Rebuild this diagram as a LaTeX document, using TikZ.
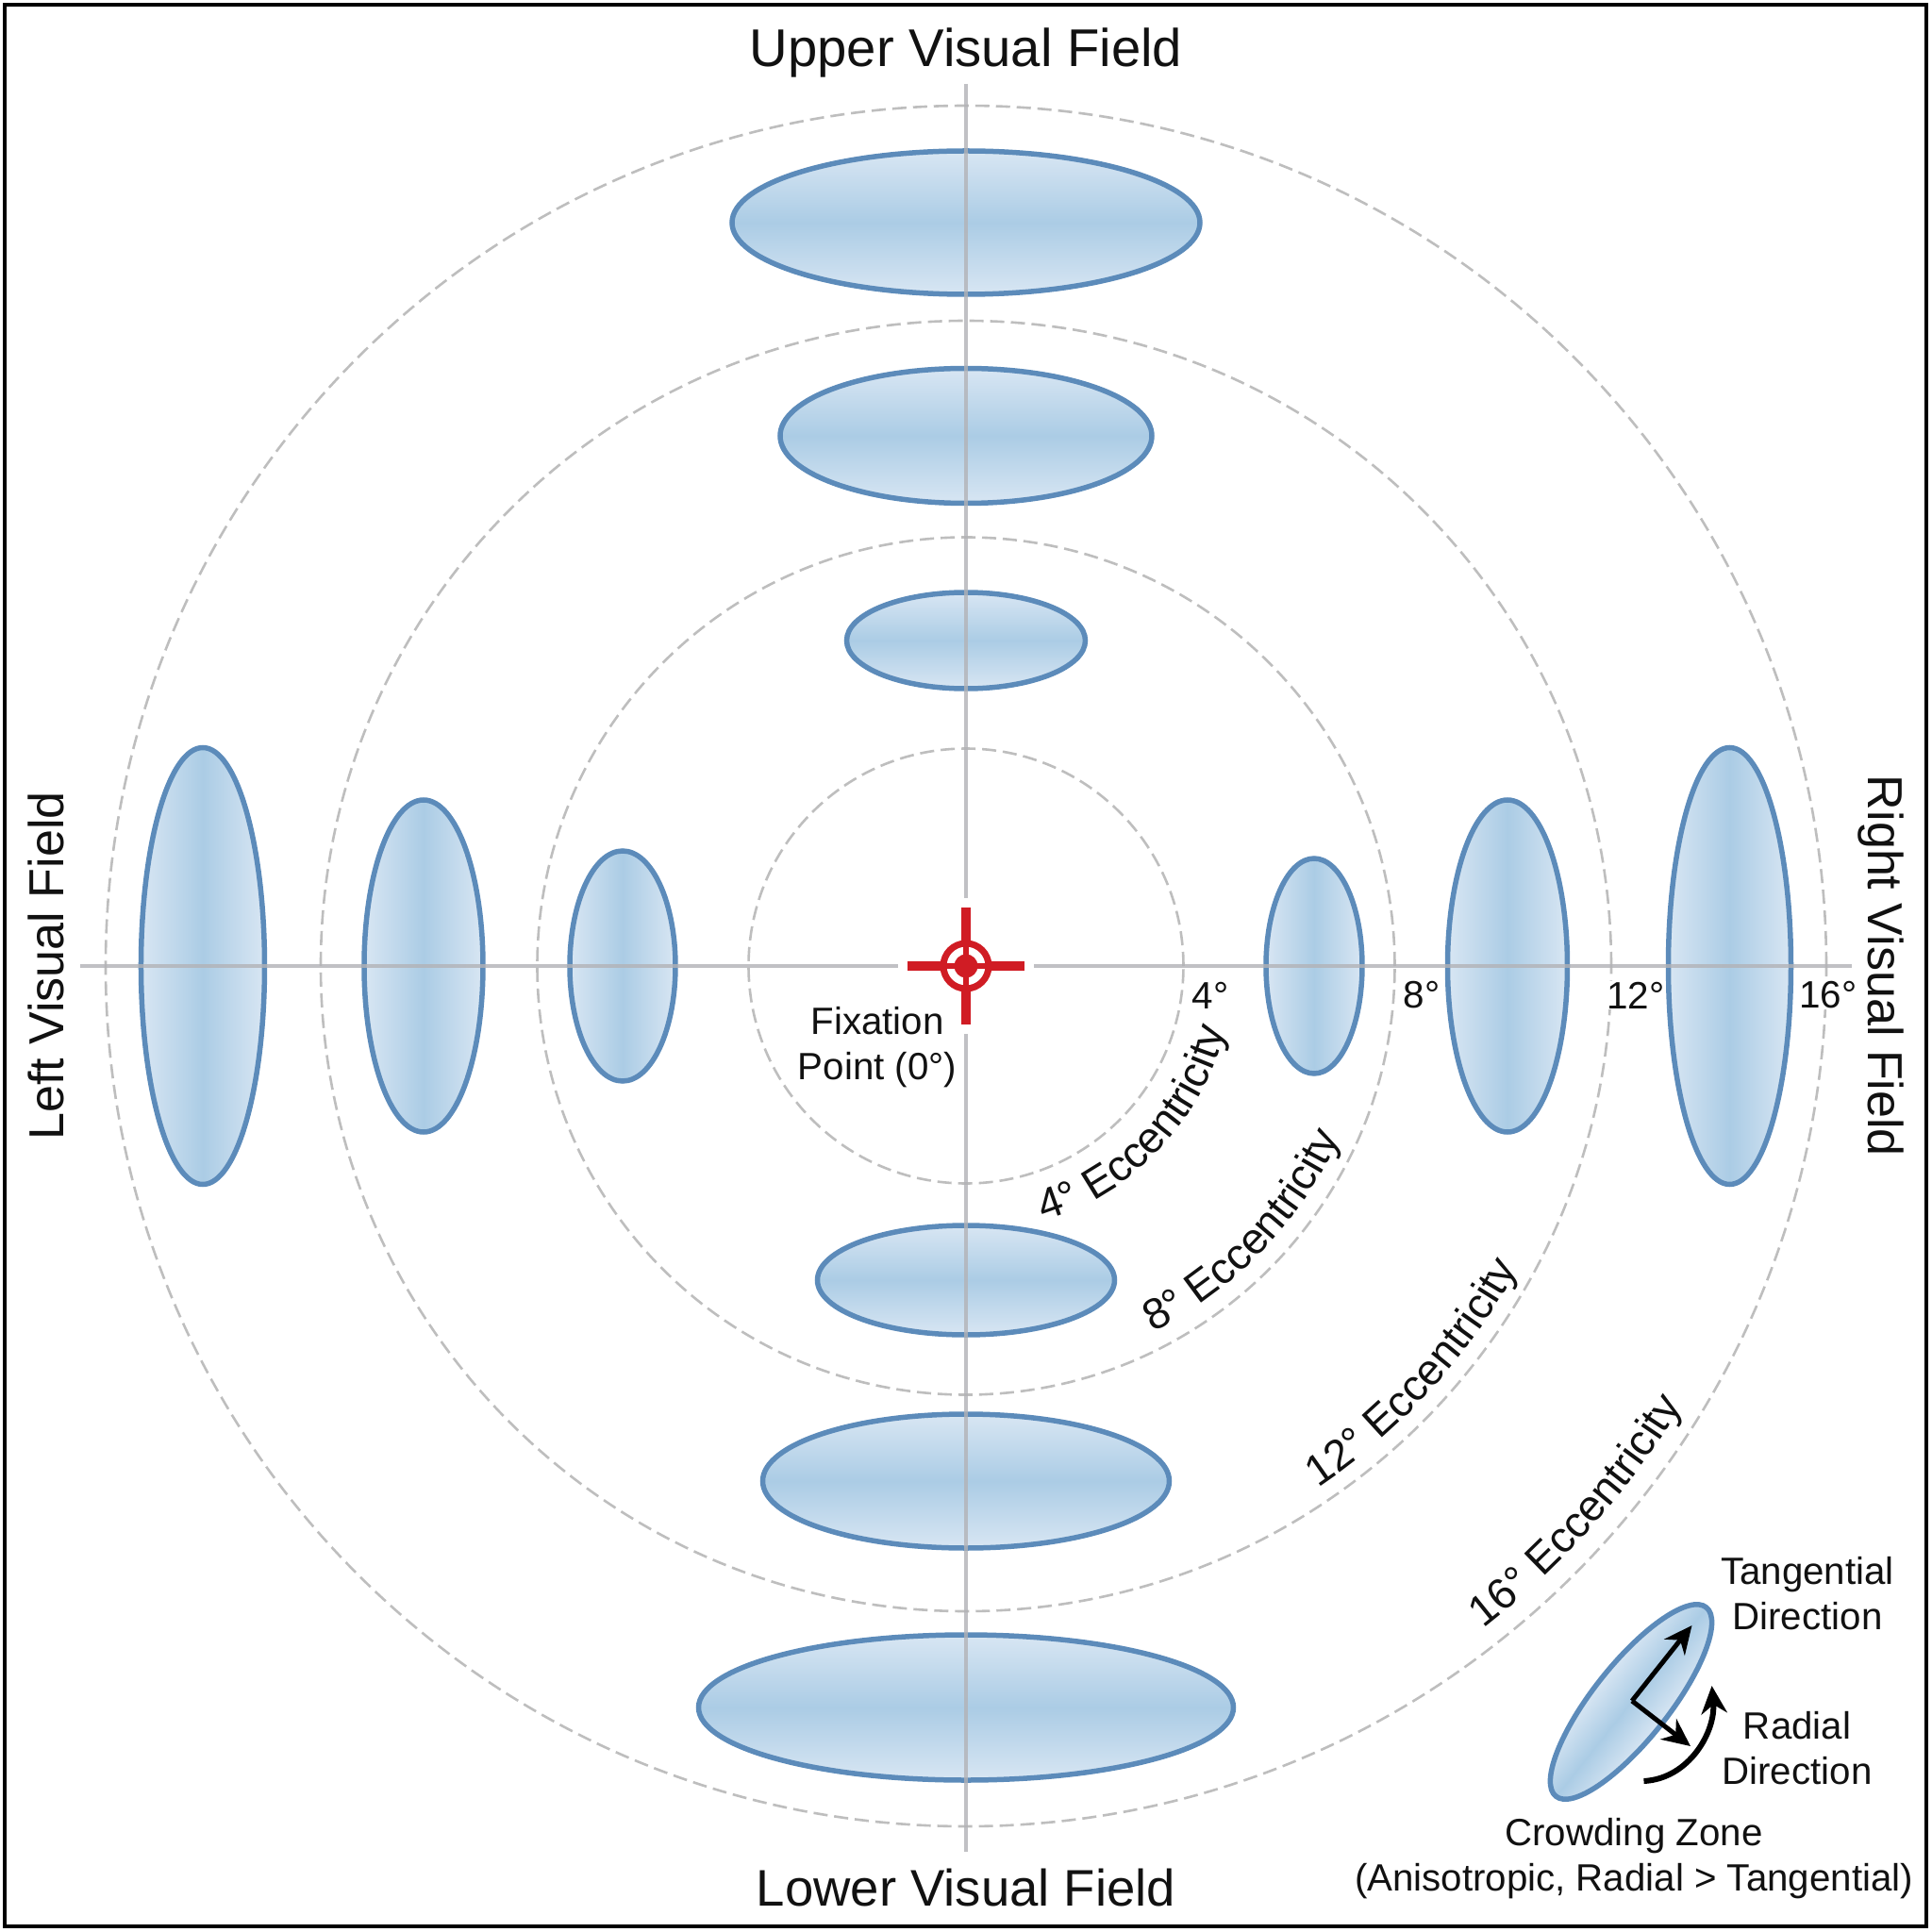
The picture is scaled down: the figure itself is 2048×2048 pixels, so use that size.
\documentclass[tikz,border=0pt]{standalone}
\usepackage{fontspec}
\setmainfont{Liberation Sans}
\usetikzlibrary{shapes.geometric,arrows.meta,decorations.text}
\newlength{\du}
\setlength{\du}{0.01cm}
\definecolor{zoneedge}{HTML}{5C8BBA}
\definecolor{zonelight}{HTML}{D8E6F3}
\definecolor{zonedark}{HTML}{ABCCE5}
\definecolor{ringgray}{HTML}{BEBEBE}
\definecolor{axisgray}{HTML}{B2B2B6}
\definecolor{fixred}{HTML}{D01C24}
\definecolor{inkblack}{HTML}{111111}
\newcommand{\ecclabelfont}{\fontsize{13.1}{15}\selectfont\color{inkblack}}
\tikzset{
  zonebase/.style={ellipse,draw=zoneedge,line width=5.5\du,inner sep=0pt,outer sep=0pt},
  zoneh/.style 2 args={zonebase,minimum width=#1\du,minimum height=#2\du,
    top color=zonelight,bottom color=zonelight,middle color=zonedark},
  zonev/.style 2 args={zonebase,minimum width=#1\du,minimum height=#2\du,
    left color=zonelight,right color=zonelight,middle color=zonedark},
  ringline/.style={draw=ringgray,line width=2.6\du,dash pattern=on 15\du off 7\du},
  axisline/.style={draw=axisgray,line width=4\du,opacity=0.8},
  fixarm/.style={draw=fixred,line width=10\du},
  upperfont/.style={font=\fontsize{16}{18}\selectfont,text=inkblack,inner sep=0pt},
  lowerfont/.style={font=\fontsize{15.5}{18}\selectfont,text=inkblack,inner sep=0pt},
  sidelabel/.style={font=\fontsize{14.8}{18}\selectfont,text=inkblack,inner sep=0pt},
  deglabel/.style={font=\fontsize{11.5}{14}\selectfont,text=inkblack,fill=white,inner sep=1\du},
  notelabel/.style={font=\fontsize{11.45}{13.7}\selectfont,text=inkblack,align=center,inner sep=0pt},
  legarrow/.style={draw=black,line width=5\du,-{Stealth[length=8.4pt,width=7.8pt]}},
  legcurve/.style={draw=black,line width=6\du,-{Stealth[length=8.4pt,width=7.8pt]}},
  ecclabel/.style={decorate,decoration={text along path,text={|\ecclabelfont|#1}}}
}
\begin{document}
\begin{tikzpicture}[x=1\du,y=1\du]
\useasboundingbox (-1024,-1024) rectangle (1024,1024);
\fill[white] (-1024,-1024) rectangle (1024,1024);
\draw[black,line width=4.5\du] (-1019,-1018) rectangle (1018,1019);
% rings
\draw[ringline] (0,0) circle[radius=230.5];
\draw[ringline] (0,0) circle[radius=454.5];
\draw[ringline] (0,0) circle[radius=684];
\draw[ringline] (0,0) circle[radius=912];
% zones
\node[zoneh={496}{152}] (zonetopc) at (0,788) {};
\node[zoneh={394}{143}] (zonetopb) at (0,562) {};
\node[zoneh={253}{102}] (zonetopa) at (0,345) {};
\node[zoneh={315}{116}] (zonebota) at (0,-333) {};
\node[zoneh={431}{142}] (zonebotb) at (0,-546) {};
\node[zoneh={567}{154}] (zonebotc) at (0,-786) {};
\node[zonev={131}{463}] (zoneleftc) at (-809,0) {};
\node[zonev={126}{352}] (zoneleftb) at (-575,0) {};
\node[zonev={112}{244}] (zonelefta) at (-364,0) {};
\node[zonev={102}{228}] (zonerighta) at (369,0) {};
\node[zonev={127}{352}] (zonerightb) at (574,0) {};
\node[zonev={130}{463}] (zonerightc) at (809.5,0) {};
% axes
\coordinate (axleft) at (-939,0);
\coordinate (axright) at (939,0);
\coordinate (axtop) at (0,935);
\coordinate (axbot) at (0,-939);
\coordinate (gapleft) at (-72,0);
\coordinate (gapright) at (72,0);
\coordinate (gaptop) at (0,72);
\coordinate (gapbot) at (0,-72);
\draw[axisline] (axleft)--(gapleft);
\draw[axisline] (gapright)--(axright);
\draw[axisline] (axtop)--(gaptop);
\draw[axisline] (gapbot)--(axbot);
% fixation mark
\node[circle,draw=fixred,line width=7\du,inner sep=0pt,outer sep=0pt,minimum size=48\du] (fixring) at (0,0) {};
\node[circle,fill=fixred,inner sep=0pt,minimum size=25\du] (fixdot) at (0,0) {};
\coordinate (fixleft) at (-62,0);
\coordinate (fixright) at (62,0);
\coordinate (fixtop) at (0,62);
\coordinate (fixbot) at (0,-62);
\draw[fixarm] (fixleft)--(fixring.west);
\draw[fixarm] (fixring.east)--(fixright);
\draw[fixarm] (fixtop)--(fixring.north);
\draw[fixarm] (fixring.south)--(fixbot);
\draw[draw=fixred,line width=6\du] (fixring.west)--(fixring.east);
\draw[draw=fixred,line width=6\du] (fixring.north)--(fixring.south);
% labels
\node[upperfont,anchor=base] (upperlabel) at (0,953) {Upper Visual Field};
\node[lowerfont,anchor=base] (lowerlabel) at (0,-996) {Lower Visual Field};
\node[sidelabel,anchor=base,rotate=90] (leftlabel) at (-956,0) {Left Visual Field};
\node[sidelabel,anchor=base,rotate=-90] (rightlabel) at (956,0) {Right Visual Field};
\node[notelabel] (fixlabel) at (-94,-86) {Fixation\\Point (0°)};
\node[deglabel] (degfour) at (259,-31) {4°};
\node[deglabel] (degeight) at (483,-31) {8°};
\node[deglabel] (degtwelve) at (710,-31) {12°};
\node[deglabel] (degsixteen) at (914,-31) {16°};
\path[ecclabel={4° Eccentricity}] (-73:283) arc[start angle=-73,end angle=-5,radius=283];
\path[ecclabel={8° Eccentricity}] (-63:436) arc[start angle=-63,end angle=-10,radius=436];
\path[ecclabel={12° Eccentricity}] (-56:667) arc[start angle=-56,end angle=-15,radius=667];
\path[ecclabel={16° Eccentricity}] (-52:891) arc[start angle=-52,end angle=-20,radius=891];
% legend
\begin{scope}[transform canvas={shift={(705,-780)},rotate=51.5}]
\node[zoneh={256}{80}] (legzone) at (0,0) {};
\end{scope}
\coordinate (legcorner) at (706,-779);
\coordinate (legtang) at (769.5,-699);
\coordinate (legrad) at (768,-827);
\coordinate (curvestart) at (718.5,-864);
\coordinate (curveend) at (790.6,-763);
\draw[legarrow] (legcorner)--(legtang);
\draw[legarrow] (legcorner)--(legrad);
\draw[legcurve] (curvestart) to[out=3,in=-85] (curveend);
\node[notelabel] (tanglabel) at (892,-665) {Tangential\\Direction};
\node[notelabel] (radlabel) at (881,-829) {Radial\\Direction};
\node[notelabel] (crowdlabel) at (708,-946) {Crowding Zone\\(Anisotropic, Radial > Tangential)};
\end{tikzpicture}
\end{document}
